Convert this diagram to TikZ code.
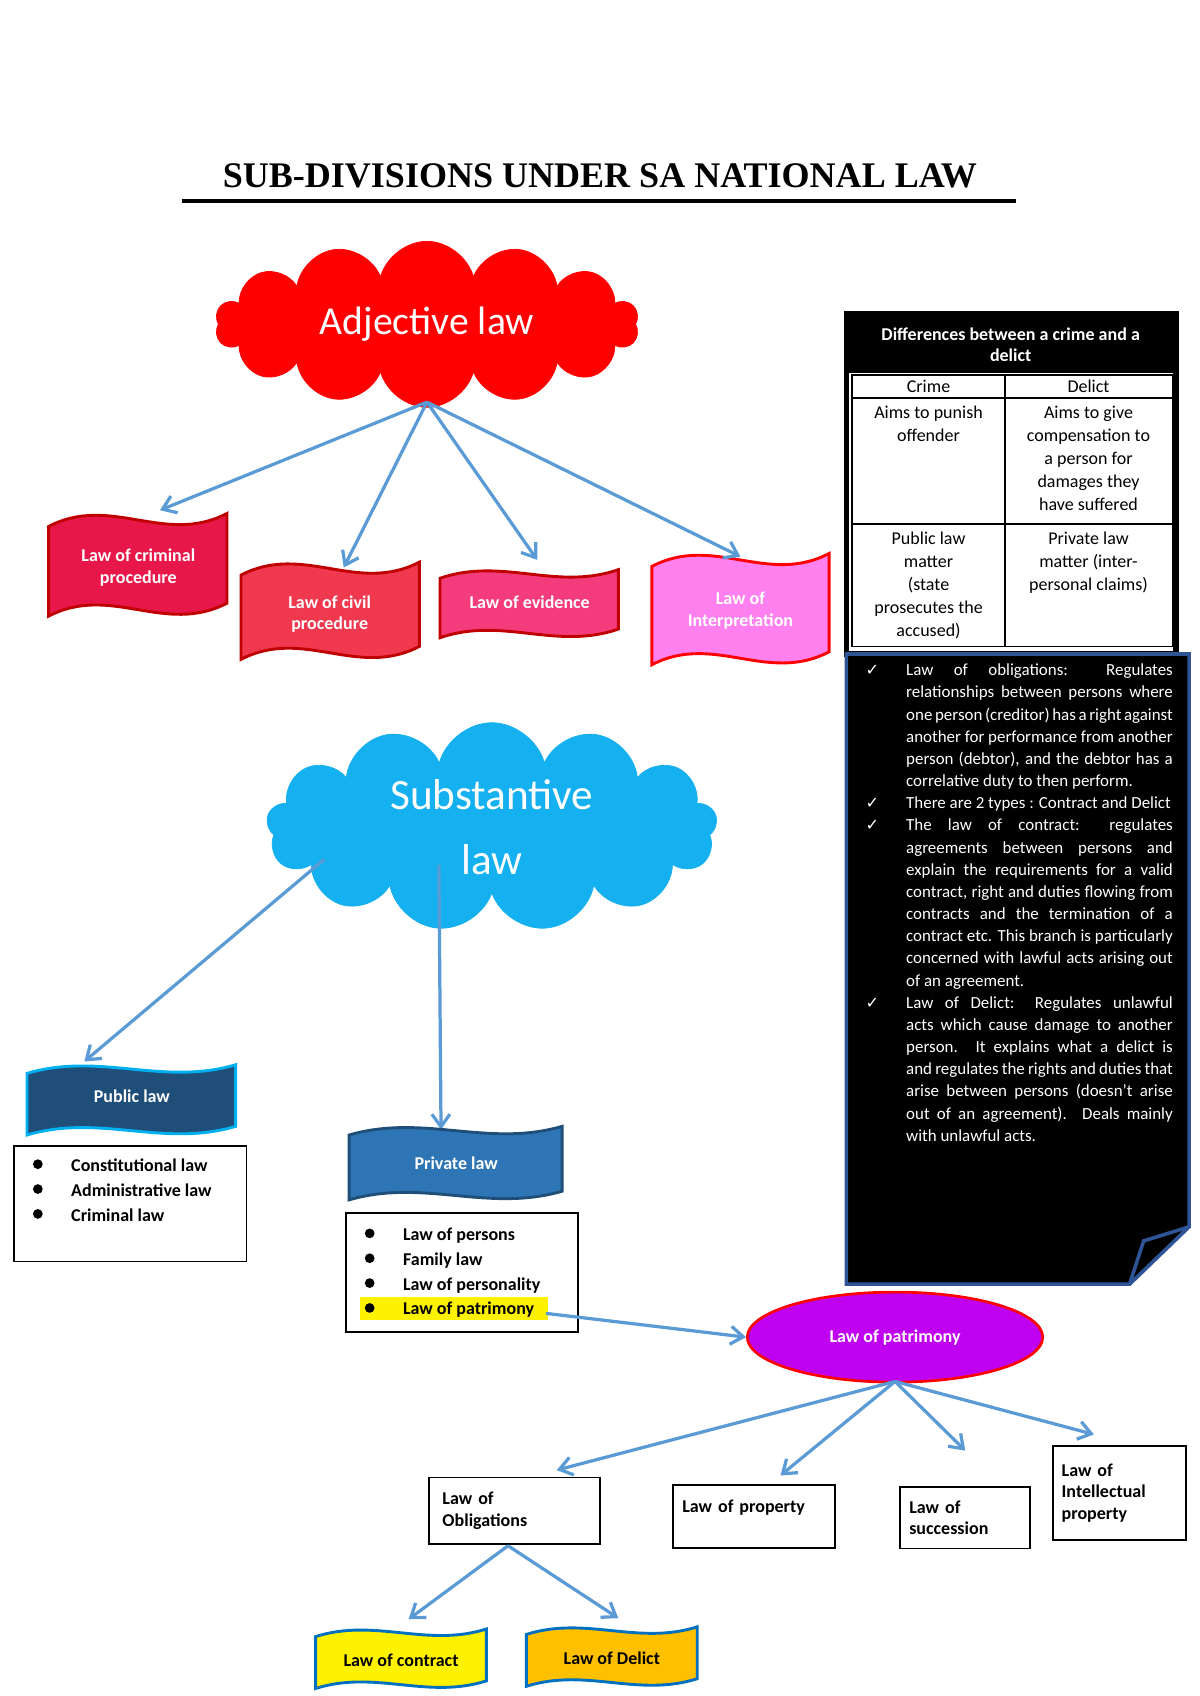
\documentclass[tikz,border=0pt]{standalone}
\usepackage{fontspec}
\setmainfont{Carlito}
\newfontfamily\titlefont{Liberation Serif}
\newfontfamily\djvfont{DejaVu Sans}
\usetikzlibrary{shapes.symbols,shapes.geometric,arrows.meta}
\definecolor{notebd}{RGB}{46,84,150}
\newcommand\chk{\noindent\llap{\djvfont\fontsize{9}{10}\selectfont ✓\hskip 15pt}}
\begin{document}
\begin{tikzpicture}[x=0.6pt,y=-0.6pt,
  arr/.style={draw={rgb,255:red,91;green,155;blue,213},line width=1.8pt,-{Straight Barb[length=7pt,width=10pt]}},
  wt/.style={text=white,font=\bfseries\fontsize{10}{12}\selectfont,align=center},
  bt/.style={font=\bfseries\fontsize{10}{12}\selectfont,align=left},
  bx/.style={draw,line width=1pt}]
\useasboundingbox (0,0) rectangle (1110,1569);
\newcommand\flag[7]{% x1 y1 x2 y2 amp fill draw
  \path[fill=#6,draw=#7,line width=1.6pt] (#1,#2+#5) .. controls ({#1+(#3-#1)*0.35},{#2-#5*1.5}) and ({#1+(#3-#1)*0.65},{#2+#5*2.5}) .. (#3,#2)
  -- (#3,#4-#5) .. controls ({#3-(#3-#1)*0.35},{#4+#5*1.5}) and ({#3-(#3-#1)*0.65},{#4-#5*2.5}) .. (#1,#4) -- cycle;}
% title
\node[font=\titlefont\bfseries\fontsize{20}{24}\selectfont] (title) at (555,163) {SUB-DIVISIONS UNDER SA NATIONAL LAW};
\draw[line width=2.5pt] (168,186) -- (940,186);
% adjective
\node[cloud,cloud puffs=14,aspect=2.8,fill=red,draw=red,minimum width=235pt,minimum height=82pt,text=white,font=\fontsize{22}{26}\selectfont] (adj) at (395,300) {Adjective law};
\coordinate (a0) at (395,372);
\flag{45}{475}{210}{570}{12}{{rgb,255:red,232;green,23;blue,74}}{{rgb,255:red,192;green,0;blue,0}}
\flag{223}{520}{388}{610}{12}{{rgb,255:red,240;green,56;blue,79}}{{rgb,255:red,192;green,0;blue,0}}
\flag{407}{527}{572}{590}{8}{{rgb,255:red,244;green,60;blue,124}}{{rgb,255:red,192;green,0;blue,0}}
\flag{603}{512}{767}{615}{12}{{rgb,255:red,255;green,128;blue,238}}{red}
\node[wt] (crim) at (128,525) {Law of criminal\\procedure};
\node[wt] (civ) at (305,568) {Law of civil\\procedure};
\node[wt] (evi) at (490,557) {Law of evidence};
\node[wt] (int) at (685,565) {Law of\\Interpretation};
\coordinate (c1) at (148,472); \coordinate (c2) at (318,525); \coordinate (c3) at (497,518); \coordinate (c4) at (685,515);
\foreach \t in {c1,c2,c3,c4} \draw[arr] (a0) -- (\t);
% table
\fill (783,290) rectangle (1088,345);
\node[text=white,font=\bfseries\fontsize{10}{12}\selectfont,align=center] (th) at (935,319) {Differences between a crime and a\\delict};
\draw[line width=1pt] (788,347) rectangle (1085,598);
\draw[line width=1pt] (930,347) -- (930,598) (788,368) -- (1085,368) (788,485) -- (1085,485);
\draw[line width=3pt] (783,290) rectangle (1088,605);
\node[font=\fontsize{10}{12}\selectfont] (cr) at (859,357) {Crime};
\node[font=\fontsize{10}{12}\selectfont] (de) at (1007,357) {Delict};
\node[anchor=north,font=\fontsize{10}{12.8}\selectfont,align=center] (r1a) at (859,370) {Aims to punish\\offender};
\node[anchor=north,font=\fontsize{10}{12.8}\selectfont,align=center] (r1b) at (1007,370) {Aims to give\\compensation to\\a person for\\damages they\\have suffered};
\node[anchor=north,font=\fontsize{10}{12.8}\selectfont,align=center] (r2a) at (859,486) {Public law\\matter\\(state\\prosecutes the\\accused)};
\node[anchor=north,font=\fontsize{10}{12.8}\selectfont,align=center] (r2b) at (1007,486) {Private law\\matter (inter-\\personal claims)};
% note box
\fill[draw=notebd,line width=2pt] (783,605) -- (1100,605) -- (1100,1135) -- (1045,1188) -- (783,1188) -- cycle;
\draw[notebd,line width=2pt] (1045,1188) -- (1058,1148) -- (1100,1135);
\node[anchor=north west,text=white,font=\fontsize{9.4}{12.3}\selectfont,text width=148pt,align=justify,inner sep=0pt] (note) at (838,614) {\lefthyphenmin=62\righthyphenmin=62\hyphenpenalty=10000\tolerance=9999\emergencystretch=20pt
\chk Law of obligations: Regulates relationships between persons where one person (creditor) has a right against another for performance from another person (debtor), and the debtor has a correlative duty to then perform.\par
\chk There are 2 types : Contract and Delict\par
\chk The law of contract: regulates agreements between persons and explain the requirements for a valid contract, right and duties flowing from contracts and the termination of a contract etc. This branch is particularly concerned with lawful acts arising out of an agreement.\par
\chk Law of Delict: Regulates unlawful acts which cause damage to another person. It explains what a delict is and regulates the rights and duties that arise between persons (doesn't arise out of an agreement). Deals mainly with unlawful acts.\par};
% substantive
\node[cloud,cloud puffs=13,aspect=2.2,fill={rgb,255:red,20;green,176;blue,240},draw={rgb,255:red,20;green,176;blue,240},minimum width=250pt,minimum height=112pt,text=white,font=\fontsize{24}{36}\selectfont,align=center] (sub) at (455,765) {Substantive\\law};
\coordinate (s1) at (300,795); \coordinate (s2) at (406,800);
\coordinate (pu) at (78,982); \coordinate (pr) at (408,1045);
\draw[arr] (s1) -- (pu); \draw[arr] (s2) -- (pr);
\flag{25}{985}{218}{1050}{8}{{rgb,255:red,31;green,78;blue,121}}{{rgb,255:red,0;green,176;blue,240}}
\flag{323}{1042}{520}{1110}{8}{{rgb,255:red,46;green,117;blue,182}}{{rgb,255:red,31;green,78;blue,121}}
\node[wt] (pul) at (122,1014) {Public law};
\node[wt] (prl) at (422,1076) {Private law};
\draw[bx] (13,1060) rectangle (228,1167);
\node[bt,anchor=north west,font=\bfseries\fontsize{10}{13.8}\selectfont] (l1) at (60,1066) {Constitutional law\\Administrative law\\Criminal law};
\foreach \y in {1077,1100,1123} \fill (35,\y) circle (4.5);
\fill[yellow] (333,1200) rectangle (507,1221);
\draw[bx] (320,1122) rectangle (535,1232);
\node[bt,anchor=north west,font=\bfseries\fontsize{10}{13.8}\selectfont] (l2) at (367,1130) {Law of persons\\Family law\\Law of personality\\Law of patrimony};
\foreach \y in {1141,1164,1187,1210} \fill (342,\y) circle (4.5);
\coordinate (lp) at (505,1215);
% patrimony
\node[ellipse,fill={rgb,255:red,192;green,0;blue,240},draw=red,line width=1.5pt,minimum width=164pt,minimum height=50pt,wt] (pat) at (828,1237) {Law of patrimony};
\draw[arr] (lp) -- (pat.west);
\coordinate (p0) at (828,1278);
\node[bx,minimum width=95pt,minimum height=37pt,bt,anchor=north west,text width=80pt] (ob) at (396,1366) {Law of\\Obligations};
\node[bx,minimum width=90pt,minimum height=35pt,bt,anchor=north west,text width=80pt] (pp) at (622,1373) {Law of property\\\mbox{}};
\node[bx,minimum width=72pt,minimum height=34pt,bt,anchor=north west,text width=62pt] (su) at (832,1375) {Law of\\succession};
\node[bx,minimum width=74pt,minimum height=52pt,bt,anchor=north west,text width=64pt] (ip) at (973,1337) {Law of\\Intellectual\\property};
\coordinate (t1) at (515,1360); \coordinate (t2) at (722,1365); \coordinate (t3) at (893,1342); \coordinate (t4) at (1012,1327);
\foreach \t in {t1,t2,t3,t4} \draw[arr] (p0) -- (\t);
\coordinate (o0) at (470,1430);
\coordinate (k1) at (378,1498); \coordinate (k2) at (572,1497);
\draw[arr] (o0) -- (k1); \draw[arr] (o0) -- (k2);
\flag{292}{1507}{450}{1562}{7}{yellow}{{rgb,255:red,0;green,112;blue,192}}
\flag{487}{1505}{645}{1560}{7}{{rgb,255:red,255;green,192;blue,0}}{{rgb,255:red,0;green,112;blue,192}}
\node[bt] (lc) at (371,1536) {Law of contract};
\node[bt] (ld) at (566,1534) {Law of Delict};
\end{tikzpicture}
\end{document}
